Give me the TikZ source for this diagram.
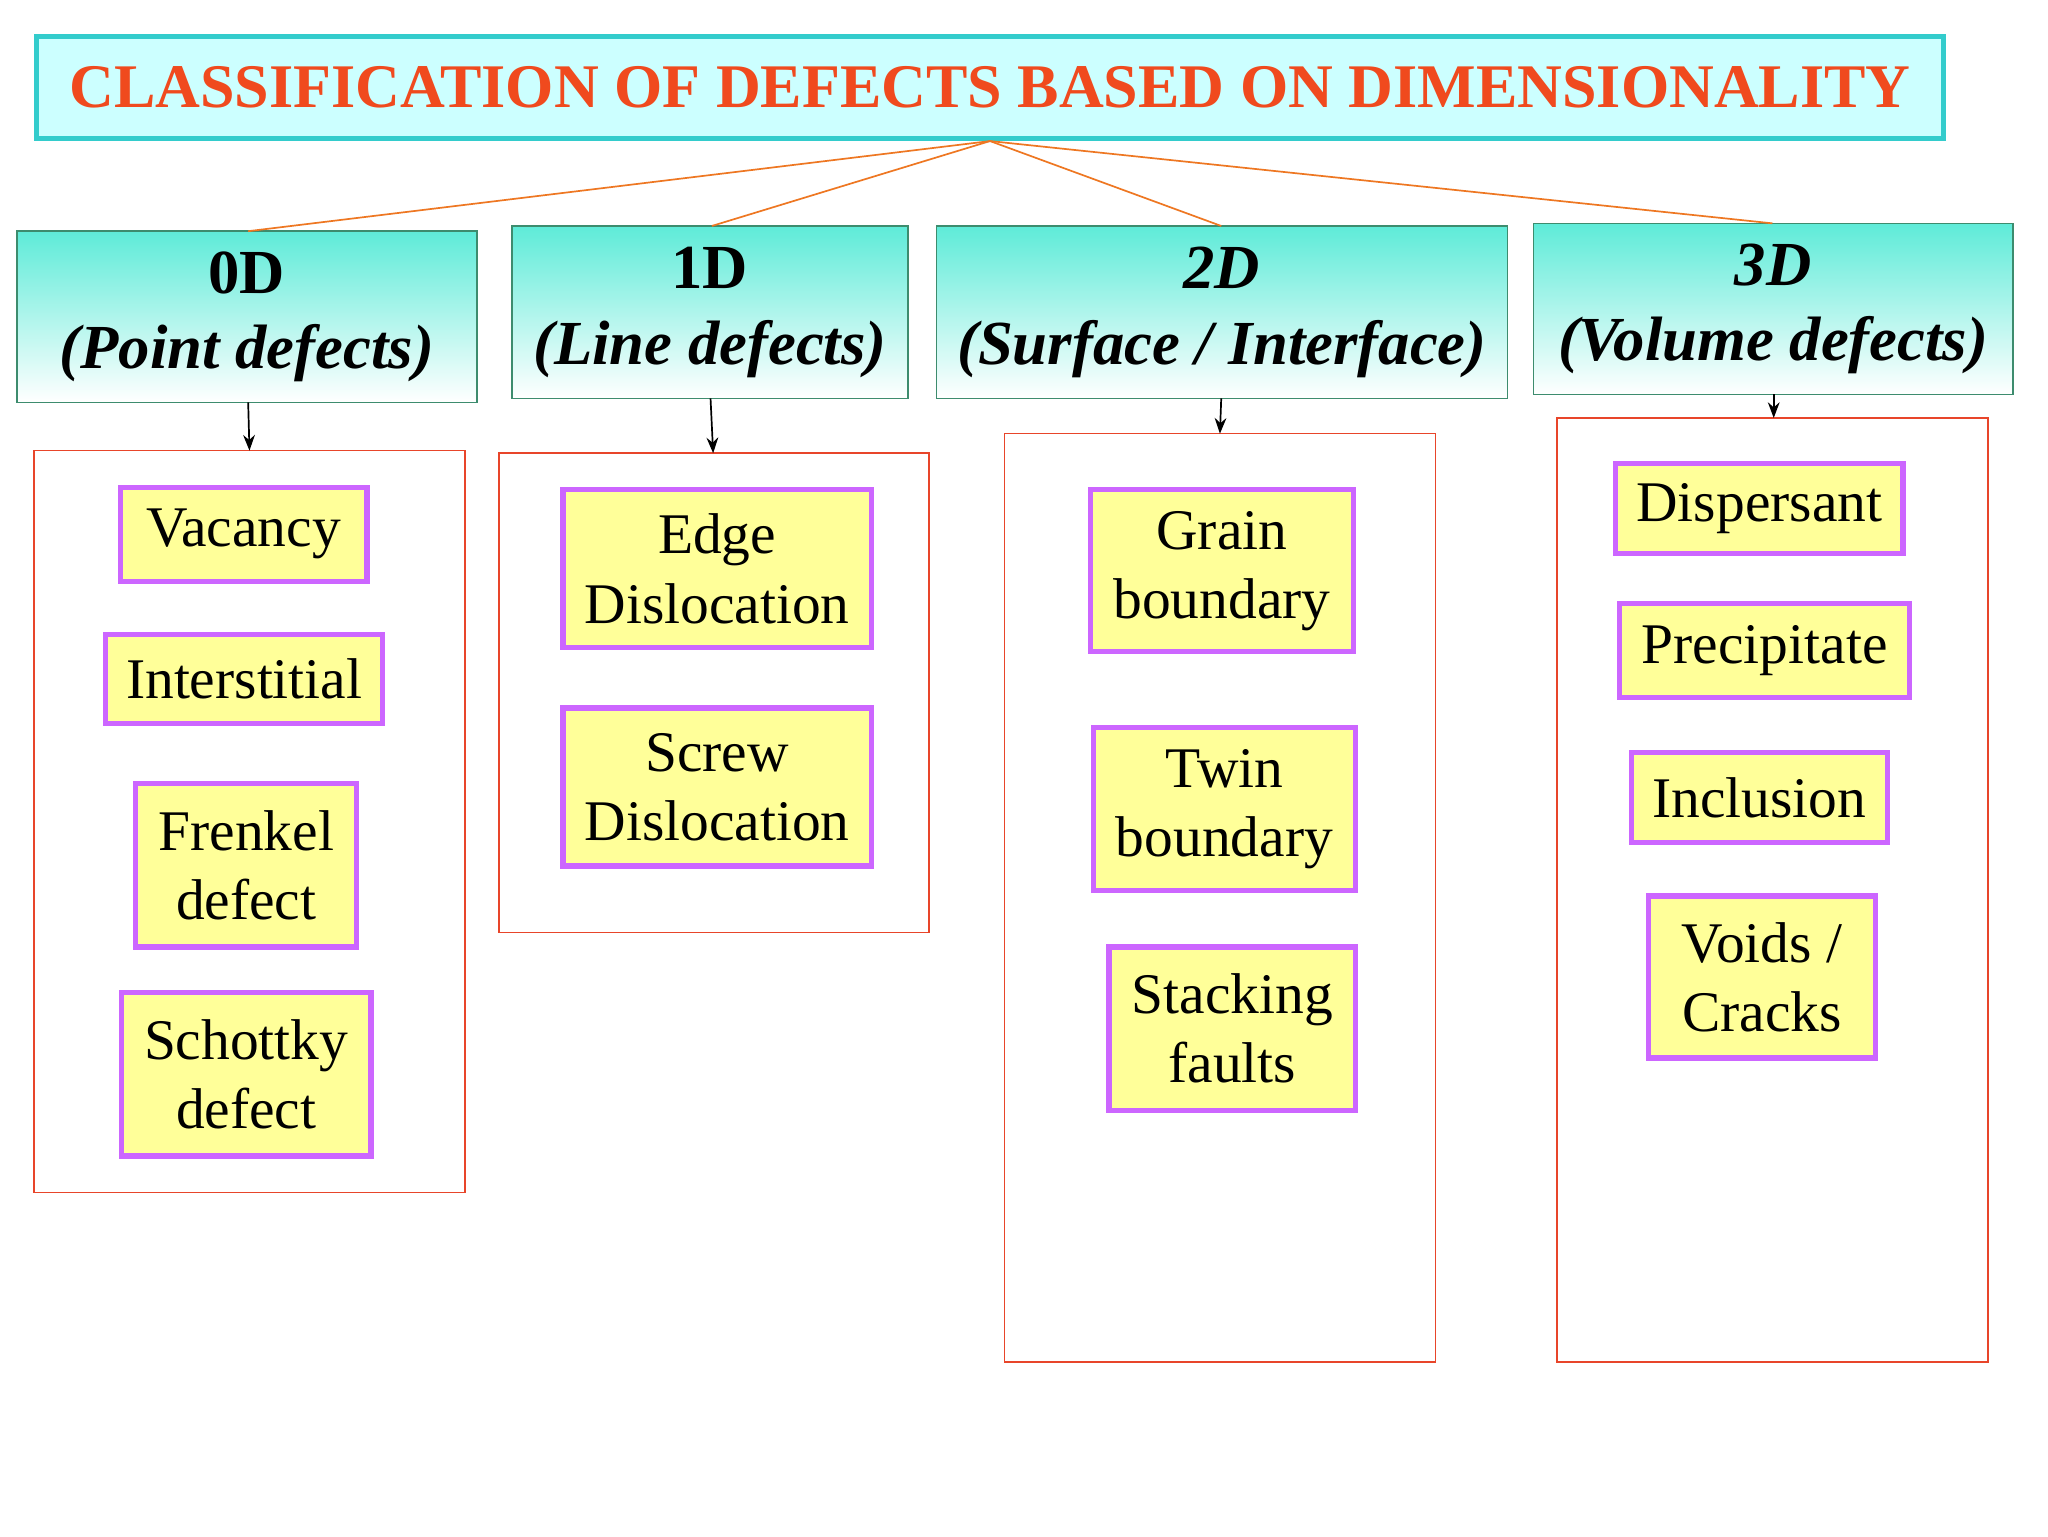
\documentclass[tikz,border=0pt]{standalone}
\usepackage{fontspec}
\setmainfont{Liberation Serif}
\usetikzlibrary{arrows.meta}
\definecolor{ttl}{HTML}{F04A1E}
\definecolor{tbord}{HTML}{33CCCC}
\definecolor{tfill}{HTML}{CCFFFF}
\definecolor{hbord}{HTML}{3D8C6E}
\definecolor{hfill}{HTML}{5EEBD8}
\definecolor{ibord}{HTML}{CC66FF}
\definecolor{ifill}{HTML}{FFFF99}
\definecolor{cbord}{HTML}{E8452A}
\definecolor{lnk}{HTML}{EE7722}
\tikzset{
 hdr/.style={draw=hbord,line width=1.2pt,top color=hfill,bottom color=white,align=center,inner sep=0pt,font=\fontsize{48}{58}\selectfont\bfseries},
 item/.style={draw=ibord,line width=4pt,fill=ifill,align=center,inner sep=0pt,font=\fontsize{44}{53}\selectfont},
 cont/.style={draw=cbord,line width=1.3pt},
 lk/.style={draw=lnk,line width=1.3pt},
 ar/.style={-{Stealth[length=12pt,width=9pt]},line width=1.3pt}
}
\newcommand{\bx}[5]{\node[item,minimum width=#3-#2,minimum height=#5-#4] (#1) at ({(#2+#3)/2},{(#4+#5)/2})}
\begin{document}
\begin{tikzpicture}[x=1pt,y=-1pt]
\useasboundingbox[fill=white] (0,0) rectangle (1568,1176);
\node[draw=tbord,line width=4pt,fill=tfill,minimum width=1460pt,minimum height=78pt,inner sep=0pt,text=ttl,font=\fontsize{47.5}{56}\selectfont\bfseries] (title) at (758,67) {CLASSIFICATION OF DEFECTS BASED ON DIMENSIONALITY};
\node[hdr,minimum width=352pt,minimum height=131pt] (h0) at (189,242.5) {0D\\\itshape(Point defects)};
\node[hdr,minimum width=303pt,minimum height=132pt] (h1) at (543.5,239) {1D\\\itshape(Line defects)};
\node[hdr,minimum width=437pt,minimum height=132pt] (h2) at (935.5,239) {\itshape 2D\\\itshape(Surface / Interface)};
\node[hdr,minimum width=367pt,minimum height=131pt] (h3) at (1357.5,236.5) {\itshape 3D\\\itshape(Volume defects)};
\coordinate (tc) at (758,108);
\draw[lk] (tc) -- (190,177); \draw[lk] (tc) -- (545,173);
\draw[lk] (tc) -- (935,173); \draw[lk] (tc) -- (1357,171);
\draw[cont] (26,345) rectangle (356,913);
\draw[cont] (382,347) rectangle (711,714);
\draw[cont] (769,332) rectangle (1099,1043);
\draw[cont] (1192,320) rectangle (1522,1043);
\coordinate (c0) at (191,345); \coordinate (c1) at (546,347);
\coordinate (c2) at (934,332); \coordinate (c3) at (1358,320);
\draw[ar] (190,308) -- (c0); \draw[ar] (544,305) -- (c1);
\draw[ar] (935,305) -- (c2); \draw[ar] (1358,302) -- (c3);
\bx{a1}{92}{281}{373}{445}{Vacancy};
\bx{a2}{81}{293}{486}{554}{Interstitial};
\bx{a3}{104}{273}{600}{725}{Frenkel\\defect};
\bx{a4}{93}{284}{760}{885}{Schottky\\defect};
\bx{b1}{431}{667}{375}{496}{Edge\\Dislocation};
\bx{b2}{431}{667}{542}{663}{Screw\\Dislocation};
\bx{c1}{835}{1036}{375}{499}{Grain\\boundary};
\bx{c2}{837}{1038}{557}{682}{Twin\\boundary};
\bx{c3}{849}{1038}{725}{850}{Stacking\\faults};
\bx{d1}{1237}{1457}{355}{424}{Dispersant};
\bx{d2}{1240}{1462}{462}{534}{Precipitate};
\bx{d3}{1249}{1445}{576}{645}{Inclusion};
\bx{d4}{1262}{1436}{686}{810}{Voids /\\Cracks};
\end{tikzpicture}
\end{document}
